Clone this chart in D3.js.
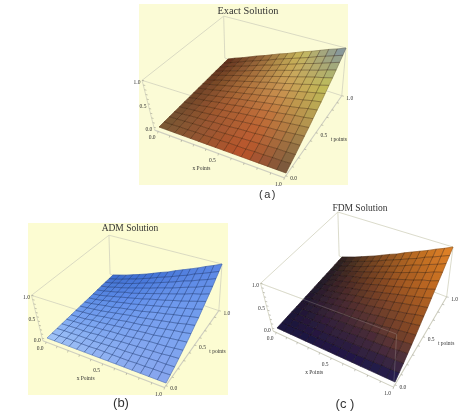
<!DOCTYPE html>
<html>
<head>
<meta charset="utf-8">
<script src="https://cdn.jsdelivr.net/npm/d3@7"></script>
<style>
  html, body { margin: 0; padding: 0; background: #fff; }
  svg { display: block; }
</style>
</head>
<body>
<svg id="chart" width="474" height="416"></svg>
<script>
const width = 474, height = 416;

// grid positions, same 16 lines on x and t
const gridValues = d3.range(16);
const axisTicks = [0, 0.5, 1];
const tickLabels = ["0.0", "0.5", "1.0"];

// surface heights, rows are t, columns are x
const exactZ = [
  [0,0,0,0,0,0,0,0,0,0,0,0,0,0,0,0],
  [0,.00,.01,.01,.02,.02,.03,.03,.04,.04,.04,.05,.05,.06,.06,.07],
  [0,.01,.02,.03,.04,.04,.05,.06,.07,.08,.09,.10,.11,.12,.12,.13],
  [0,.01,.03,.04,.05,.07,.08,.09,.11,.12,.13,.15,.16,.17,.19,.20],
  [0,.02,.04,.05,.07,.09,.11,.12,.14,.16,.18,.20,.21,.23,.25,.27],
  [0,.02,.04,.07,.09,.11,.13,.16,.18,.20,.22,.24,.27,.29,.31,.33],
  [0,.03,.05,.08,.11,.13,.16,.19,.21,.24,.27,.29,.32,.35,.37,.40],
  [0,.03,.06,.09,.12,.16,.19,.22,.25,.28,.31,.34,.37,.40,.44,.47],
  [0,.04,.07,.11,.14,.18,.21,.25,.28,.32,.36,.39,.43,.46,.50,.53],
  [0,.04,.08,.12,.16,.20,.24,.28,.32,.36,.40,.44,.48,.52,.56,.60],
  [0,.04,.09,.13,.18,.22,.27,.31,.36,.40,.44,.49,.53,.58,.62,.67],
  [0,.05,.10,.15,.20,.24,.29,.34,.39,.44,.49,.54,.59,.64,.68,.73],
  [0,.05,.11,.16,.21,.27,.32,.37,.43,.48,.53,.59,.64,.69,.75,.80],
  [0,.06,.12,.17,.23,.29,.35,.40,.46,.52,.58,.64,.69,.75,.81,.87],
  [0,.06,.12,.19,.25,.31,.37,.44,.50,.56,.62,.68,.75,.81,.87,.93],
  [0,.07,.13,.20,.27,.33,.40,.47,.53,.60,.67,.73,.80,.87,.93,1]
];

const admZ = [
  [0,0,0,0,0,0,0,0,0,0,0,0,0,0,0,0],
  [0,0,.01,.01,.01,.01,.02,.02,.02,.02,.02,.03,.03,.04,.04,.05],
  [0,.01,.01,.02,.02,.02,.03,.04,.05,.05,.06,.07,.08,.09,.09,.10],
  [0,.01,.02,.02,.03,.05,.05,.06,.08,.09,.10,.11,.12,.13,.15,.16],
  [0,.01,.02,.03,.05,.06,.08,.09,.10,.12,.14,.16,.17,.18,.20,.22],
  [0,.01,.02,.05,.06,.08,.10,.12,.14,.16,.18,.19,.22,.24,.26,.28],
  [0,.02,.03,.05,.08,.10,.12,.15,.17,.19,.22,.24,.27,.30,.32,.35],
  [0,.02,.04,.06,.09,.12,.15,.18,.20,.23,.26,.29,.32,.35,.39,.42],
  [0,.02,.05,.08,.10,.14,.17,.20,.23,.27,.31,.34,.38,.41,.45,.48],
  [0,.02,.05,.09,.12,.16,.19,.23,.27,.31,.35,.39,.43,.47,.51,.56],
  [0,.02,.06,.10,.14,.18,.22,.26,.31,.35,.39,.44,.48,.53,.58,.63],
  [0,.03,.07,.11,.16,.19,.24,.29,.34,.39,.44,.49,.54,.60,.64,.70],
  [0,.03,.08,.12,.17,.22,.27,.32,.38,.43,.48,.54,.60,.65,.72,.77],
  [0,.04,.09,.13,.18,.24,.30,.35,.41,.47,.53,.60,.65,.72,.78,.85],
  [0,.04,.09,.15,.20,.26,.32,.39,.45,.51,.58,.64,.72,.78,.85,.92],
  [0,.05,.10,.16,.22,.28,.35,.42,.48,.56,.63,.70,.77,.85,.92,1]
];

// ADM and FDM can't be told apart in the picture
const fdmZ = admZ;

// one entry per plot. floor and top are the box corners in the order
// (x0,t0) (x1,t0) (x1,t1) (x0,t1)
const panels = [
  {
    title: "Exact Solution", titleX: 248, titleY: 14, titleSize: 10.3,
    caption: "(a)", captionX: 268, captionY: 198, captionSize: 11, captionGap: 1.5,
    bg: [139, 4, 209, 181], bgColor: "#fbfbd6",
    floor: [[159,127],[286,173],[342,93],[228,59]],
    top: [[148,80],[292,125],[346,48],[227,17]],
    z: exactZ,
    grid: "rgba(50,25,10,0.42)",
    showThrough: false,
    colors: [
      ["#7a5c38","#945430","#ba4f28","#70543c"],
      ["#6b452a","#a85a30","#c06c38","#b09450"],
      ["#66381f","#a86c38","#cc9e58","#c0c058"],
      ["#5e2c1c","#96683a","#c8bc5c","#7a90a8"]
    ]
  },
  {
    title: "ADM Solution", titleX: 130, titleY: 231, titleSize: 9.5,
    caption: "(b)", captionX: 121, captionY: 407, captionSize: 13, captionGap: 0,
    bg: [28, 223, 200, 172], bgColor: "#fcfcd2",
    floor: [[47,338],[166,383],[219,308],[113,275]],
    top: [[37,295],[170,337],[222,264],[112,236]],
    z: admZ,
    grid: "rgba(35,60,120,0.6)",
    showThrough: false,
    colors: [
      ["#a4c6f8","#96b8f4","#8cacf0","#86a4ee"],
      ["#78a4f0","#78a2f0","#7ea4f0","#7ca4f0"],
      ["#5686e0","#5e8cea","#6c98ee","#6c98ec"],
      ["#3e6ccc","#3f70d4","#4f7cdc","#5a86e4"]
    ]
  },
  {
    title: "FDM Solution", titleX: 360, titleY: 211, titleSize: 9.5,
    caption: "(c )", captionX: 345, captionY: 408, captionSize: 13, captionGap: 0,
    bg: null, bgColor: "none",
    floor: [[277,328],[395,382],[447,294],[342,257]],
    top: [[266,283],[398,332],[453,247],[341,213]],
    z: fdmZ,
    grid: "rgba(20,10,10,0.4)",
    showThrough: true,
    colors: [
      ["#1a1440","#1c1444","#1c1648","#1a1a50"],
      ["#1e1632","#3e2636","#5a3430","#8a4a25"],
      ["#1f1828","#5a3224","#985222","#c06a20"],
      ["#2a2020","#7a4820","#b86a20","#e48428"]
    ]
  }
];

const svg = d3.select("#chart");

svg.append("defs").append("filter")
  .attr("id", "soft")
  .append("feGaussianBlur")
  .attr("stdDeviation", 0.4);

const root = svg.append("g").attr("filter", "url(#soft)");

const x = d3.scaleLinear().domain([0, 1]).range([0, 1]);
const t = d3.scaleLinear().domain([0, 1]).range([0, 1]);
const z = d3.scaleLinear().domain([0, 1]).range([0, 1]);
const gridStep = d3.scaleLinear().domain([0, 15]).range([0, 1]);

// maps the unit square onto a quad, this gives the perspective of the box
function quadMap(q) {
  const [[x0,y0],[x1,y1],[x2,y2],[x3,y3]] = q;
  const dx1 = x1-x2, dx2 = x3-x2, dx3 = x0-x1+x2-x3;
  const dy1 = y1-y2, dy2 = y3-y2, dy3 = y0-y1+y2-y3;
  const den = dx1*dy2 - dx2*dy1;
  const g = (dx3*dy2 - dx2*dy3)/den;
  const h = (dx1*dy3 - dx3*dy1)/den;
  const a = x1-x0+g*x1, b = x3-x0+h*x3;
  const d = y1-y0+g*y1, e = y3-y0+h*y3;
  return (u, v) => {
    const w = g*u + h*v + 1;
    return [(a*u + b*v + x0)/w, (d*u + e*v + y0)/w];
  };
}

panels.forEach(function(p) {
  const floorMap = quadMap(p.floor);
  const topMap = quadMap(p.top);
  const project = function(xv, tv, zv) {
    const f = floorMap(x(xv), t(tv));
    const c = topMap(x(xv), t(tv));
    const k = z(zv);
    return [f[0] + (c[0]-f[0])*k, f[1] + (c[1]-f[1])*k];
  };
  const g = root.append("g");
  const line = d3.line();

  if (p.bg) {
    g.append("rect")
      .attr("x", p.bg[0]).attr("y", p.bg[1])
      .attr("width", p.bg[2]).attr("height", p.bg[3])
      .attr("fill", p.bgColor);
  }

  // box edges, the box sits a little outside the surface at the front
  const xA = -0.03, tA = -0.02, zA = -0.06;
  const backEdges = [
    [[xA,tA,1],[xA,1,1],[1,1,1],[1,1,zA]],
    [[xA,1,1],[xA,1,0]],
    [[xA,tA,1],[1,tA,1]],
    [[xA,1,0],[1,1,zA]],
    [[xA,tA,1],[xA,tA,zA]]
  ];
  const frontEdges = [
    [[xA,tA,zA],[1,tA,zA],[1,1,zA]]
  ];
  const throughEdges = [
    [[xA,tA,1],[1,tA,1],[1,tA,zA]]
  ];
  g.selectAll(".back").data(backEdges).enter().append("path")
    .attr("class", "back")
    .attr("fill", "none")
    .attr("stroke", "#d2d2be")
    .attr("stroke-width", 0.8)
    .attr("d", d => line(d.map(c => project(c[0], c[1], c[2]))));

  // surface cells, filled first so no seams show, grid lines on top
  const rowScales = p.colors.map(r => d3.scaleLinear()
    .domain([0, 1/3, 2/3, 1]).range(r));
  const cellColor = function(xv, tv) {
    const pos = tv*3, i = Math.min(2, Math.floor(pos));
    return d3.interpolateRgb(rowScales[i](xv), rowScales[i+1](xv))(pos - i);
  };
  const cells = [];
  gridValues.slice(0, 15).forEach(function(j) {
    gridValues.slice(0, 15).forEach(function(i) {
      cells.push({i: i, j: j});
    });
  });
  const cellPath = d => line([[d.i,d.j],[d.i+1,d.j],[d.i+1,d.j+1],[d.i,d.j+1]]
    .map(c => project(gridStep(c[0]), gridStep(c[1]), p.z[c[1]][c[0]]))) + "Z";
  g.selectAll(".cell").data(cells).enter().append("path")
    .attr("class", "cell")
    .attr("fill", d => cellColor(gridStep(d.i + 0.5), gridStep(d.j + 0.5)))
    .attr("stroke", d => cellColor(gridStep(d.i + 0.5), gridStep(d.j + 0.5)))
    .attr("stroke-width", 0.6)
    .attr("d", cellPath);
  g.selectAll(".mesh").data(cells).enter().append("path")
    .attr("class", "mesh")
    .attr("fill", "none")
    .attr("stroke", p.grid)
    .attr("stroke-width", 0.5)
    .attr("d", cellPath);

  // the FDM picture has the hidden box edges faintly showing
  if (p.showThrough) {
    g.selectAll(".through").data(throughEdges).enter().append("path")
      .attr("class", "through")
      .attr("fill", "none")
      .attr("stroke", "#d8d8c8")
      .attr("stroke-opacity", 0.3)
      .attr("stroke-width", 0.7)
      .attr("d", d => line(d.map(c => project(c[0], c[1], c[2]))));
  }

  g.selectAll(".front").data(frontEdges).enter().append("path")
    .attr("class", "front")
    .attr("fill", "none")
    .attr("stroke", "#cfcfc0")
    .attr("stroke-width", 1.1)
    .attr("d", d => line(d.map(c => project(c[0], c[1], c[2]))));

  // tick marks
  const tickMark = function(list, from, dx, dy) {
    g.selectAll(null).data(list).enter().append("path")
      .attr("fill", "none")
      .attr("stroke", "#8f8f80")
      .attr("stroke-width", 0.5)
      .attr("d", function(v) {
        const a = from(v);
        return line([a, [a[0]+dx, a[1]+dy]]);
      });
  };
  const minor = x.ticks(10);
  tickMark(minor, v => project(v, tA, zA), -0.5, 2);
  tickMark(minor, v => project(1, v, zA), 2, 0.5);
  tickMark(minor, v => project(xA, tA, v), 2, 0.5);

  // tick labels
  const small = function(list, from, dx, dy) {
    g.selectAll(null).data(list).enter().append("text")
      .attr("x", (d, i) => from(axisTicks[i])[0] + dx)
      .attr("y", (d, i) => from(axisTicks[i])[1] + dy)
      .attr("text-anchor", "middle")
      .attr("font-family", "'Liberation Serif', serif")
      .attr("font-size", 5.5)
      .attr("fill", "#333")
      .text(d => d);
  };
  small(tickLabels, v => project(v, tA, zA), -6, 8);
  small(tickLabels, v => project(1, v, zA), 8, 4);
  small(tickLabels, v => project(xA, tA, v), -5, 4);

  // axis names
  const xName = project(0.5, tA, zA);
  const tName = project(1, 0.5, zA);
  g.append("text")
    .attr("x", xName[0] - 17).attr("y", xName[1] + 16)
    .attr("text-anchor", "middle")
    .attr("font-family", "'Liberation Serif', serif")
    .attr("font-size", 5.5).attr("fill", "#333")
    .text("x Points");
  g.append("text")
    .attr("x", tName[0] + 23).attr("y", tName[1] + 8)
    .attr("text-anchor", "middle")
    .attr("font-family", "'Liberation Serif', serif")
    .attr("font-size", 5.5).attr("fill", "#333")
    .text("t points");

  // title and caption
  g.append("text")
    .attr("x", p.titleX).attr("y", p.titleY)
    .attr("text-anchor", "middle")
    .attr("font-family", "'Liberation Serif', serif")
    .attr("font-size", p.titleSize)
    .attr("fill", "#333")
    .text(p.title);
  g.append("text")
    .attr("x", p.captionX).attr("y", p.captionY)
    .attr("text-anchor", "middle")
    .attr("font-family", "'Liberation Sans', sans-serif")
    .attr("font-size", p.captionSize)
    .attr("letter-spacing", p.captionGap)
    .attr("fill", "#333")
    .text(p.caption);
});
</script>
</body>
</html>
